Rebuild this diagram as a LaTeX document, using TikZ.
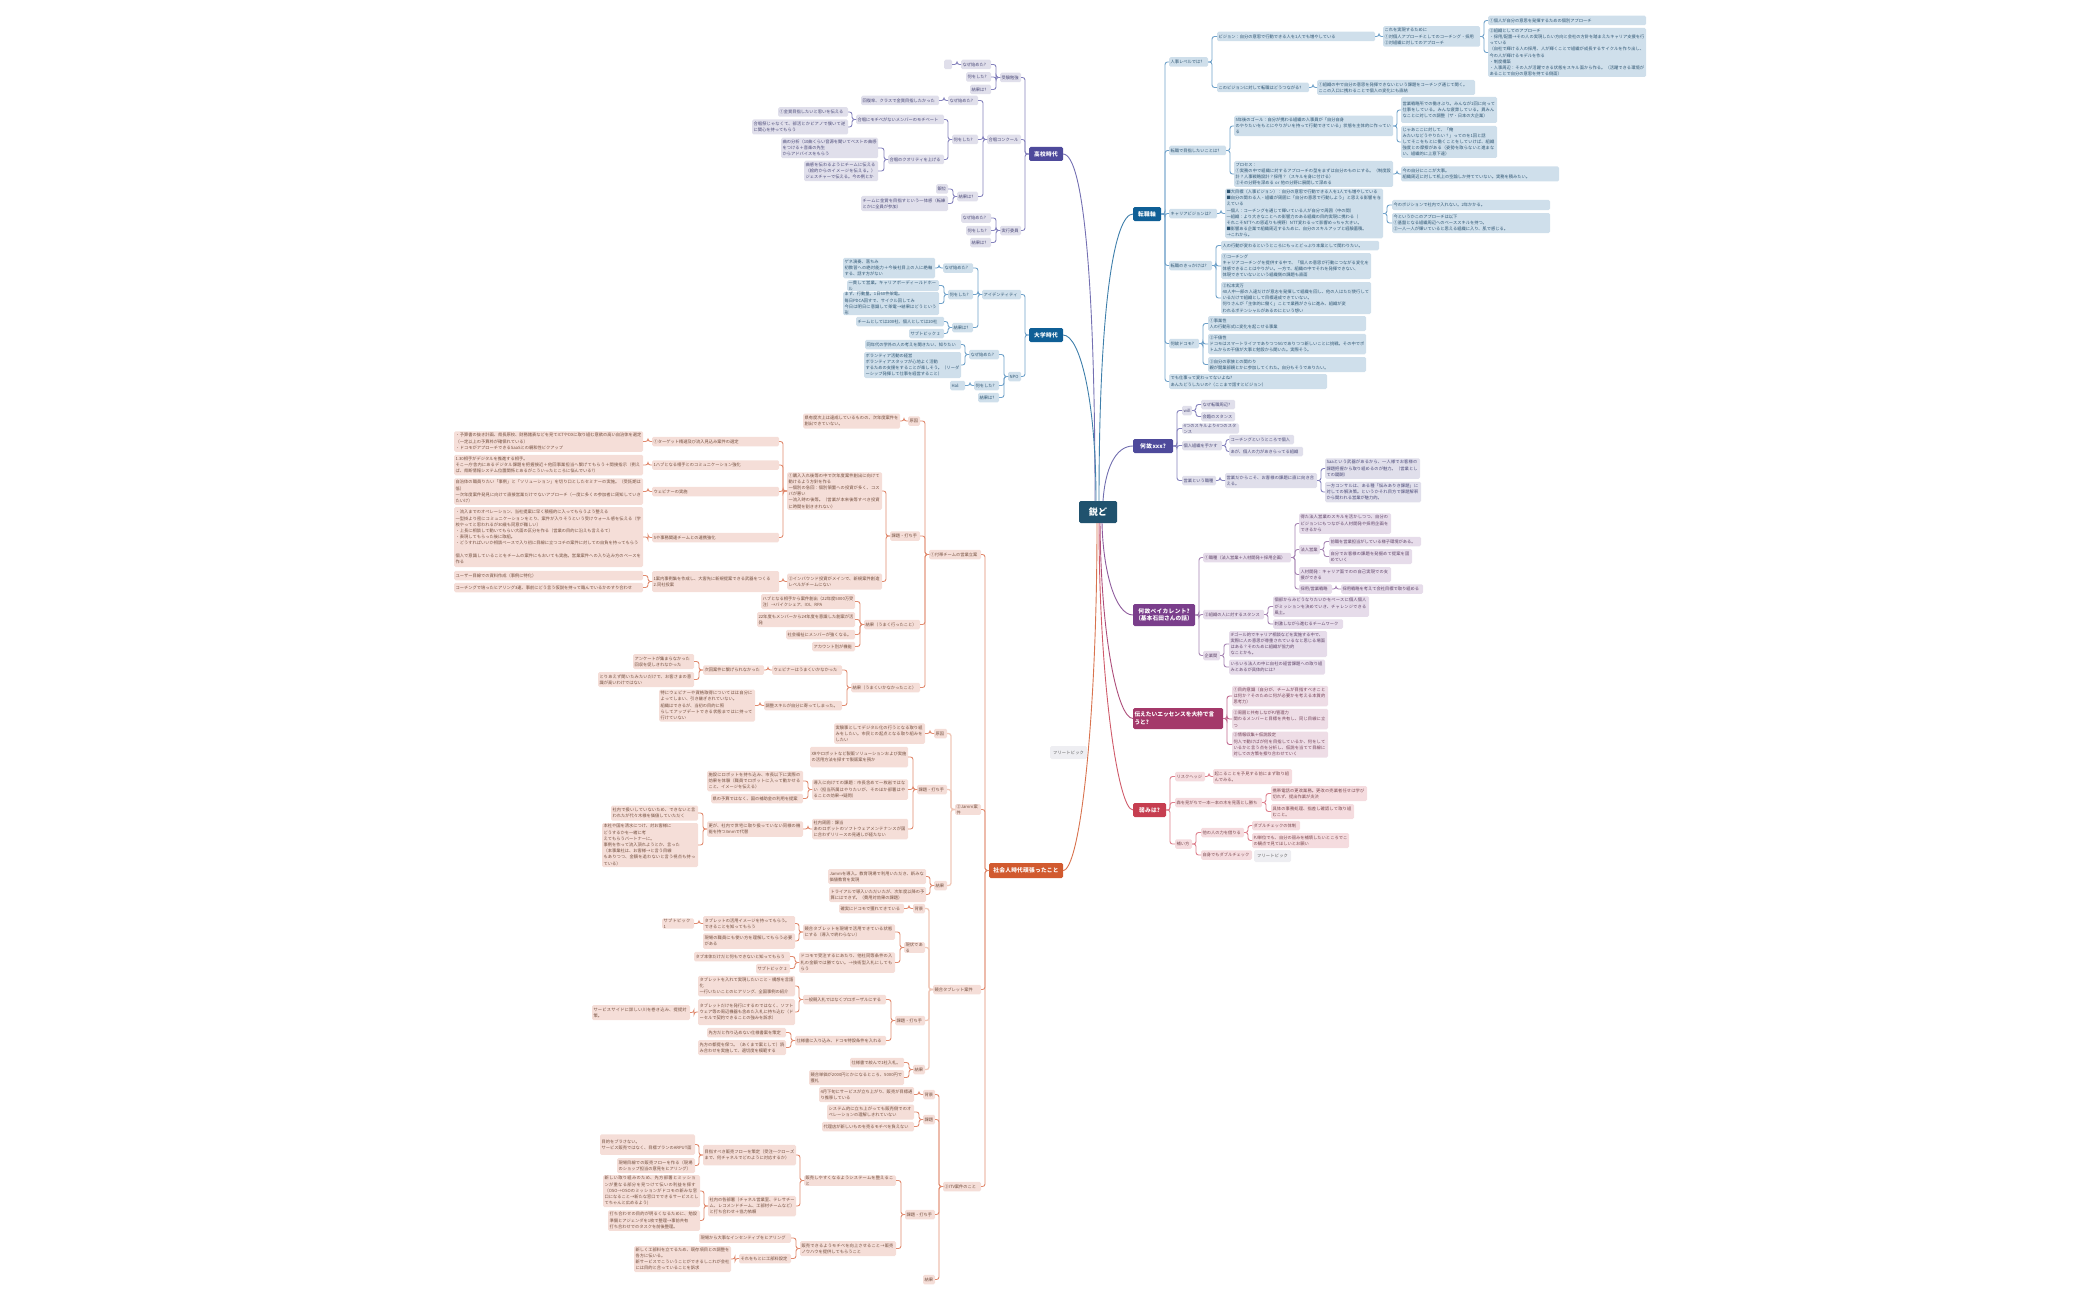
\documentclass[tikz,border=0pt]{standalone}
\usepackage{fontspec}
\usepackage{xcolor}
\setmainfont{Noto Sans CJK JP}
\XeTeXlinebreaklocale "ja"
\XeTeXlinebreakskip=0pt plus 1pt

\definecolor{rootc}{HTML}{20526E}
\definecolor{bluec}{HTML}{0F5F96}
\definecolor{bluef}{HTML}{CFDFEB}
\definecolor{bluet}{HTML}{2F5673}
\definecolor{bluel}{HTML}{6FA1C9}
\definecolor{violc}{HTML}{4E4A9B}
\definecolor{violf}{HTML}{E0DFEB}
\definecolor{violt}{HTML}{4B4A78}
\definecolor{violl}{HTML}{8481BC}
\definecolor{purpc}{HTML}{7A3E8B}
\definecolor{purpf}{HTML}{E6DCEA}
\definecolor{purpt}{HTML}{5F4468}
\definecolor{purpl}{HTML}{A583B2}
\definecolor{magc}{HTML}{A4396A}
\definecolor{magf}{HTML}{EEDDE6}
\definecolor{magt}{HTML}{734258}
\definecolor{magl}{HTML}{C0688F}
\definecolor{redc}{HTML}{C63E50}
\definecolor{redf}{HTML}{F5DCDF}
\definecolor{redt}{HTML}{7A4A50}
\definecolor{redl}{HTML}{DD7F8C}
\definecolor{orac}{HTML}{D15A2F}
\definecolor{oraf}{HTML}{F5DED8}
\definecolor{orat}{HTML}{74503F}
\definecolor{oral}{HTML}{E08A6E}
\definecolor{orap}{HTML}{F0C8B8}
\definecolor{grayf}{HTML}{EEEEF2}

\tikzset{
  tp/.style 2 args={shape=rectangle, rounded corners=1.5pt, anchor=west, inner xsep=1.5pt, inner ysep=.3pt, outer sep=0pt,
    minimum width=#1pt, minimum height=#2pt, text width=#1pt-3pt, align=left,
    font=\fontsize{4.25}{6.2}\selectfont},
  bt/.style 2 args={tp={#1}{#2}, fill=bluef, text=bluet},
  vt/.style 2 args={tp={#1}{#2}, fill=violf, text=violt},
  pt/.style 2 args={tp={#1}{#2}, fill=purpf, text=purpt},
  mt/.style 2 args={tp={#1}{#2}, fill=magf, text=magt},
  rt/.style 2 args={tp={#1}{#2}, fill=redf, text=redt},
  ot/.style 2 args={tp={#1}{#2}, fill=oraf, text=orat},
  free/.style 2 args={tp={#1}{#2}, fill=grayf, text=black!65, align=center},
  main/.style 2 args={tp={#1}{#2}, align=center, text=white, font=\fontsize{5.7}{7.6}\selectfont\bfseries},
  lk/.style={line width=.9pt, rounded corners=2.5pt},
  lkroot/.style={line width=.9pt}
}

\begin{document}
\begin{tikzpicture}[x=1pt, y=-1pt]
\useasboundingbox (0,0) rectangle (2100,1300);

\node[main={38}{22}, fill=rootc, font=\fontsize{9}{11}\selectfont\bfseries] (root) at (1079,512) {鋭ど};

% 転職軸
\node[main={28}{14}, fill=bluec] (jiku) at (1133,214) {転職軸};
\node[bt={39}{9.5}] (b1) at (1169,62) {人事レベルでは?};
\node[bt={158}{9.5}] (b1a) at (1217,36.5) {ビジョン：自分の意思で行動できる人を1人でも増やしている};
\node[bt={97}{20.5}] (b1a1) at (1383,36.5) {これを実現するために\\①対個人アプローチとしてのコーチング・採用\\②対組織に対してのアプローチ};
\node[bt={158}{9.5}] (b1a1a) at (1488,20.5) {①個人が自分の意思を発揮するための個別アプローチ};
\node[bt={158}{49}] (b1a1b) at (1488,52.5) {②組織としてのアプローチ\\・採用/配置→その人の実現したい方向と会社の方針を踏まえたキャリア支援を行っている\\（自社で輝ける人の採用、人が輝くことで組織が成長するサイクルを作り出し、今の人が輝けるモデルを作る\\・制度構築\\・人事周辺：その人が活躍できる状態をスキル面から作る。（活躍できる環境があることで自分の意思を持てる側面）};
\node[bt={92}{9.5}] (b1b) at (1217,87.5) {このビジョンに対して転職はどうつながる?};
\node[bt={158}{15}] (b1b1) at (1317,87.5) {①組織の中で自分の意思を発揮できないという課題をコーチング通じて聞く。\\ここの入口に携わることで個人の変化にも直結};
\node[bt={57}{9.5}] (b2) at (1169,150.5) {転職で目指したいことは?};
\node[bt={159}{20.5}] (b2a) at (1234,126) {5年後のゴール：自分が携わる組織の人事員が「自分自身\\のやりたいをもとにやりがいを持って行動できている」状態を主体的に作っている};
\node[bt={96}{26}] (b2a1) at (1401,110) {営業戦略所での働きぶり。みんなが1回に向って仕事をしている。みんな疲弊している。異みんなことに対しての調整（ザ・日本の大企業）};
\node[bt={96}{32}] (b2a2) at (1401,142) {じゃあここに対して、「俺\\みたいなどうやりたい？」ってのを1回と話\\してそこをもとに働くことをしていけば、組織強度との摩擦がある（姿勢を取らないと進まない、組織的に上意下達）};
\node[bt={159}{26}] (b2b) at (1234,174) {プロセス：\\①実務の中で組織に対するアプローチの型をまずは自分のものにする。（制度設計？人事戦略設計？採用？（スキルを身に付ける）\\②その分野を深める or 他の分野に展開して深める};
\node[bt={158}{15}] (b2b1) at (1401,174) {今の自分にここが大事。\\組織周辺に対して机上の空論しか持てていない。実務を積みたい。};
\node[bt={48}{9.5}] (b3) at (1169,213.5) {キャリアビジョンは?};
\node[bt={158}{49.5}] (b3a) at (1225,213.5) {■大目標（人事ビジョン）：自分の意思で行動できる人を1人でも増やしている\\■自分の関わる人・組織が周囲に「自分の意思で行動しよう」と思える影響を与えている\\一個人：コーチングを通じて輝いている人が自分で周囲（中の間）\\一組織：より大きなことへの影響力のある組織の目的実現に携わる（\\それこそNTTへの恩返りも視野）NTT変わるって影響めっちゃ大きい。\\■影響ある企業で組織周辺するために、自分のスキルアップと経験蓄積。\\→これから。};
\node[bt={158}{10}] (b3a1) at (1392,205) {今のポジションで社内で入れない。2年かかる。};
\node[bt={158}{20}] (b3a2) at (1392,223) {今というかこのアプローチは以下\\①基盤となる組織周辺へのベーススキルを持つ。\\②一人一人が輝いていると思える組織に入り、肌で感じる。};
\node[bt={43}{9.5}] (b4) at (1169,265.5) {転職のきっかけは?};
\node[bt={158}{9.5}] (b4a) at (1221,245.5) {人の行動が変わるというところにもっとどっぷり本業として関わりたい。};
\node[bt={150}{26}] (b4b) at (1221,266) {①コーチング\\キャリアコーチングを提供する中で、「個人の意思が行動につながる変化を体感できることはやりがい。一方で、組織の中でそれを発揮できない、\\体現できていないという組織側の課題も直面};
\node[bt={150}{32}] (b4c) at (1221,298) {②松本実万\\40人中一部の人達だけが意志を発揮して組織を回し、他の人はただ使行しているだけで組織として目標達成できていない。\\何りさんが「主体的に働く」ことで業務がさらに進み、組織が変\\われるポテンシャルがあるのにという想い};
\node[bt={30}{9.5}] (b5) at (1169,343.5) {何故ドコモ?};
\node[bt={158}{15}] (b5a) at (1208,323.5) {①事業性\\人の行動形式に変化を起こせる事業};
\node[bt={158}{20.5}] (b5b) at (1208,344) {②干値性\\ドコモはスマートライフでありつつ5Gでありつつ新しいことに挑戦。その中でボトムからの干値が大事と勉設から聞いた。実際そう。};
\node[bt={158}{15}] (b5c) at (1208,364.5) {③自分の家族との関わり\\親が開業部親とかに参加してくれた。自分もそうでありたい。};
\node[bt={158}{15}] (b6) at (1169,381.5) {でも仕事って変わってないよね?\\あんたどうしたいの?（ここまで話すとビジョン）};

% 何故xxx
\node[main={40}{14}, fill=violc] (nani) at (1133,446) {何故xxx?};
\node[vt={10}{9.5}] (pa) at (1182,410.5) {will};
\node[vt={34}{9.5}] (pa1) at (1201,404.5) {なぜ転職周辺?};
\node[vt={34}{9.5}] (pa2) at (1201,416.5) {会趣のスタンス};
\node[vt={57}{9.5}] (pb) at (1182,428.5) {4つのスキルより4つのスタンス};
\node[vt={40}{9.5}] (pc) at (1182,445.5) {個人組織を手かす};
\node[vt={65}{9.5}] (pc1) at (1229,439.5) {コーチングというところで個人};
\node[vt={74}{9.5}] (pc2) at (1229,451.5) {あが、個人の力があきらってる組織};
\node[vt={34}{9.5}] (pd) at (1182,480.5) {営業という職種};
\node[vt={92}{15}] (pd1) at (1225,480.5) {営業だからこそ、お客様の課題に直に向き合える。};
\node[vt={95}{20.5}] (pd1a) at (1325,468.5) {Saaという武器があるから、一人様でお客様の課題把握から取り組めるのが魅力。（営業としての醍醐）};
\node[vt={96}{20.5}] (pd1b) at (1325,492) {一方コンサルは、ある種「悩みありき課題」に対しての解決策。というかそれ目方で課題解釈から関われる営業が魅力的。};

% 何故ペイカレント
\node[main={62}{22}, fill=purpc] (pay) at (1133,615) {何故ペイカレント?\\（基本石田さんの話）};
\node[pt={88}{9.5}] (qa) at (1203,557.5) {①職種（法人営業＋人材開発＋採用企画）};
\node[pt={92}{20.5}] (qa1) at (1299,523.5) {得た法人営業のスキルを活かしつつ、自分のビジョンにもつながる人材開発や採用企画をできるから};
\node[pt={21}{9.5}] (qa2) at (1299,549.5) {法人営業};
\node[pt={92}{9.5}] (qa2a) at (1329,541.5) {前職を営業担当がしている様子環境がある。};
\node[pt={83}{15}] (qa2b) at (1329,556.5) {自分でお客様の課題を発掘めて提案を固めていく};
\node[pt={92}{15}] (qa3) at (1299,574.5) {人材開発：キャリア面でのの自己実現での支援ができる};
\node[pt={33}{9.5}] (qa4) at (1299,589) {採用/営業戦略};
\node[pt={82}{9.5}] (qa4a) at (1341,589) {採用戦略を考えて会社目標で取り組める};
\node[pt={61}{9.5}] (qb) at (1203,614.5) {②組織の人に対するスタンス};
\node[pt={96}{20.5}] (qb1) at (1273,606.5) {個部からみどうなりたいかをベースに個人個人がミッションを決めていき、チャレンジできる風土。};
\node[pt={70}{9.5}] (qb2) at (1273,624) {刺激しながら進むるチームワーク};
\node[pt={17}{9.5}] (qc) at (1203,655.5) {企業間};
\node[pt={98}{26}] (qc1) at (1229,644) {IFゴール的でキャリア相談などを実施する中で、\\実際に人の意思が尊重されているなと思じる場面はある？そのために組織が協力的\\なことかも。};
\node[pt={96}{15}] (qc2) at (1229,667) {いろいろ法人の中に自社の経営課題への取り組みとあるが具体的には?};

% 伝えたいエッセンス
\node[main={90}{21}, fill=magc, align=left] (ess) at (1133,718.5) {伝えたいエッセンスを大枠で言\\うと?};
\node[mt={96}{20.5}] (ra) at (1232,696) {①目的意識（自分が、チームが目指すべきことは何か？そのために何が必要かを考える本質的思考力）};
\node[mt={96}{20.5}] (rb) at (1232,719) {②周囲と共有しながPJ管理力\\関わるメンバーと目標を共有し、同じ目線に立つ};
\node[mt={96}{26}] (rc) at (1232,744.5) {③情報収集＋仮説設定\\何人で動けばが何を目指しているか、何をしているかと言う点を分析し、仮説を当てて目線に対しての方策を擦り合わせていく};

% 弱みは
\node[main={33}{14}, fill=redc] (yowa) at (1133,810) {弱みは?};
\node[rt={30}{9.5}] (sa) at (1175,776.5) {リスクヘッジ};
\node[rt={79}{15}] (sa1) at (1213,776.5) {起こることを予見する前にまず取り組んでみる。};
\node[rt={87}{9.5}] (sb) at (1175,802.5) {森を見がちで一本一本の木を見落とし勝ち};
\node[rt={96}{15}] (sb1) at (1271,793.5) {携帯電話の更改業務。更改の売業者任せは学び切れず、提出作業が炎渋};
\node[rt={83}{15}] (sb2) at (1271,811.5) {具体の事務処理、指差し確認して取り組むこと。};
\node[rt={17}{9.5}] (sc) at (1175,844) {補い方};
\node[rt={43}{9.5}] (sc1) at (1201,832.5) {他の人の力を借りる};
\node[rt={48}{9.5}] (sc1a) at (1252,825.5) {ダブルチェックの体制};
\node[rt={97}{15}] (sc1b) at (1252,840.5) {PJ単位でも、自分の弱みを補填したいところでこの観点で見てほしいとお願い};
\node[rt={51}{9.5}] (sc2) at (1201,855) {自身でもダブルチェック};
\node[free={37}{12}] (sc2a) at (1254,856) {フリートピック};

% 高校時代
\node[main={34}{14}, fill=violc] (high) at (1029,154) {高校時代};
\node[vt={21}{9.5}] (hA) at (1000,77.5) {受験勉強};
\node[vt={30}{9.5}] (hA1) at (961,64.5) {なぜ始めた?};
\node[vt={8}{9.5}] (hA1a) at (944,64.5) {};
\node[vt={25}{9.5}] (hA2) at (966,77) {何をした?};
\node[vt={21}{9.5}] (hA3) at (970,89.5) {結果は?};
\node[vt={34}{9.5}] (hB) at (987,139.5) {合唱コンクール};
\node[vt={30}{9.5}] (hB1) at (948,100.5) {なぜ始めた?};
\node[vt={78}{9.5}] (hB1a) at (861,100.5) {回復率、クラスで金賞目指したかった};
\node[vt={26}{9.5}] (hB2) at (952,139.5) {何をした?};
\node[vt={88}{9.5}] (hB2a) at (856,119.5) {合唱にモチベがないメンバーのモチベート};
\node[vt={70}{9.5}] (hB2a1) at (778,112) {①金賞目指したいと思いを伝える};
\node[vt={96}{15}] (hB2a2) at (752,127) {合唱祭じゃなくて、部活とかピアノで僕いて逆に関心を持ってもらう};
\node[vt={56}{9.5}] (hB2b) at (888,159.5) {合唱のクオリティを上げる};
\node[vt={97}{20.5}] (hB2b1) at (781,148) {曲の分析（10曲くらい音源を聞いてベストの曲感をつける＋音楽の先生\\からアドバイスをもらう};
\node[vt={74}{20.5}] (hB2b2) at (804,171) {曲感を伝わるようにチームに伝える（絵的からのイメージを伝える。）ジェスチャーで伝える。今の例とか};
\node[vt={21}{9.5}] (hB3) at (957,196.5) {結果は?};
\node[vt={12}{9.5}] (hB3a) at (936,189) {銀位};
\node[vt={87}{15}] (hB3b) at (861,203.5) {チームに金賞を目指すという一体感（転練とかに全員が参加）};
\node[vt={21}{9.5}] (hC) at (1000,230.5) {実行委員};
\node[vt={30}{9.5}] (hC1) at (961,218) {なぜ始めた?};
\node[vt={25}{9.5}] (hC2) at (966,230.5) {何をした?};
\node[vt={21}{9.5}] (hC3) at (970,242.5) {結果は?};

% 大学時代
\node[main={34}{14}, fill=bluec] (univ) at (1029,335) {大学時代};
\node[bt={39}{9.5}] (uA) at (982,294.5) {アイデンティティ};
\node[bt={30}{9.5}] (uA1) at (943,268) {なぜ始めた?};
\node[bt={92}{20.5}] (uA1a) at (843,268) {ゲネ演奏、落ちみ\\初教習への絶対能力＋今後社目上の人に絶軸する、話す方がない};
\node[bt={25}{9.5}] (uA2) at (948,294.5) {何をした?};
\node[bt={92}{9.5}] (uA2a) at (847,285.5) {一貫して営業。キャリアボーディールドホール};
\node[bt={96}{20.5}] (uA2b) at (843,303.5) {まず、行動量。1日60件架電。\\毎日PDCA回すで、サイクル回してみ\\今日は明日に意識して架電→結果はどうという形};
\node[bt={21}{9.5}] (uA3) at (952,327.5) {結果は?};
\node[bt={88}{9.5}] (uA3a) at (856,321.5) {チームとしては200社、個人としては20社};
\node[bt={35}{9.5}] (uA3b) at (909,333.5) {サブトピック 2};
\node[bt={13}{9.5}] (uB) at (1008,376.5) {NPO};
\node[bt={30}{9.5}] (uB1) at (969,354.5) {なぜ始めた?};
\node[bt={96}{9.5}] (uB1a) at (865,344.5) {同年代の学外の人の考えを聞きたい、知りたい};
\node[bt={97}{26}] (uB1b) at (864,365) {ボランティア活動の経営\\ボランティアスタッフが心地よく活動\\するための支援をすることが楽しそう。（リーダーシップ発揮して仕事を経営すること）};
\node[bt={25}{9.5}] (uB2) at (974,385.5) {何をした?};
\node[bt={15}{9.5}] (uB2a) at (950,385.5) {Hal:};
\node[bt={21}{9.5}] (uB3) at (978,397.5) {結果は?};

% 社会人時代
\node[main={74}{15}, fill=orac] (work) at (989,870.5) {社会人時代頑張ったこと};
\node[ot={52}{9.5}] (c1) at (929,554.5) {①付帯チームの営業立案};
\node[ot={12}{9.5}] (c1a) at (908,421) {原因};
\node[ot={97}{15}] (c1a1) at (803,421) {県有度次上は達成しているものの、次年度案件を創出できていない。};
\node[ot={30}{9.5}] (c1b) at (890,536) {課題・打ち手};
\node[ot={95}{37.5}] (c1b1) at (787,491) {①購入入れ後等の中で次年度案件創出に向けて動けるよう方針を作る\\一個別の急回：個別領置への投資が多く、コスパが悪い\\一流入時の後等。（営業が本来後等すべき投資に時間を割ききれない）};
\node[ot={127}{9.5}] (c1b1a) at (652,441.5) {①ターゲット精選及び流入見込み案件の選定};
\node[ot={189}{20.5}] (c1b1a1) at (454,441.5) {・予算書の抜き計画、県長原校、財務諸表などを見てICTやDXに取り組む意欲の高い自治体を選定（一定以上の予算枠が確保れている）\\・ドコモがアプローチできるSaaSとの親和性ピクアップ};
\node[ot={127}{9.5}] (c1b1b) at (652,465) {1ハブとなる相手とのコミュニケーション強化};
\node[ot={189}{20.5}] (c1b1b1) at (454,465) {1.30相手がデジタルを推進する相手。\\そこ一庁舎内にあるデジタル課題を把握接近＋他回事業担当へ繋げてもらう＋間接指示（例えば、県断情報システム位置関係とあるがこういったところに悩んでいる?）};
\node[ot={127}{9.5}] (c1b1c) at (652,491.5) {ウェビナーの実施};
\node[ot={189}{26.5}] (c1b1c1) at (454,491.5) {自治体の職員りたい「事例」と「ソリューション」を切り口としたセミナーの実施。（受託期は低）\\一次年度案件発見に向けて直接営業だけでないアプローチ（一度に多くの参加者に周知していきたいけ）};
\node[ot={127}{9.5}] (c1b1d) at (652,537.5) {Sや事務関連チームとの連携強化};
\node[ot={189}{60}] (c1b1d1) at (454,537) {・流入までのオペレーション、当社提案に早く積極的に入ってもらうよう整える\\一型掛より密にコミュニケーションをとり、案件が入りそうという受けウォール感を伝える（学校やってと思われるが30歳も同意が難しい）\\・上長に相談して動いてもらい大面の区分を作る（営業の目的に沿えも言えるて）\\・表現してもらった後に取組。\\・どうすればいいか相談ベースで入り初に目線に立つコチの案件に対しての自負を持ってもらう\\[6.2pt]個人で意識していることをチームの案件にもおいても実施。営業案件への入り込み方のベースを作る};
\node[ot={95}{16}] (c1b2) at (787,581.5) {②インバウンド投資がメインで、新規案件創造レベルがチームにない};
\node[ot={127}{21}] (c1b2a) at (652,581.5) {1案内事例集を作成し、大客先に新規提案できる武器をつくる\\2.同社投案};
\node[ot={189}{9.5}] (c1b2a1) at (454,575.5) {ユーザー目線での資料作成（事例に特化）};
\node[ot={189}{9.5}] (c1b2a2) at (454,587.5) {コーチングで培ったヒアリング3連、事前にどう言う仮説を持って臨んでいるかのすり合わせ};
\node[ot={56}{9.5}] (c1c) at (864,624.5) {結果（うまく行ったこと）};
\node[ot={94}{15}] (c1c1) at (761,601.5) {ハブとなる相手から案件創出（22年度5000万受注）→バイクシェア、IOI、RPA};
\node[ot={98}{15}] (c1c2) at (757,619.5) {22年度もメンバーから24年度を意識した創案が活発};
\node[ot={69}{9.5}] (c1c3) at (786,634.5) {社会福祉にメンバーが強くなる。};
\node[ot={43}{9.5}] (c1c4) at (812,646.5) {アカウント別が機能};
\node[ot={69}{9.5}] (c1d) at (851,687.5) {結果（うまくいかなかったこと）};
\node[ot={70}{9.5}] (c1d1) at (772,670) {ウェビナーはうまくいかなかった};
\node[ot={61}{9.5}] (c1d1a) at (703,670) {次回案件に繋げられなかった};
\node[ot={61}{15}] (c1d1a1) at (633,661.5) {アンケートが集まらなかった\\回収を促しきれなかった};
\node[ot={96}{15}] (c1d1a2) at (598,679.5) {とりあえず聞いたみたいだけで、お客さまの意識が高いわけではない};
\node[ot={78}{9.5}] (c1d2) at (764,705.5) {調整スキルが自分に寄ってしまった。};
\node[ot={96}{32}] (c1d2a) at (659,705.5) {特にウェビナーや資格取得についてはは自分によってしまい、引き継ぎきれていない。\\組織はできるが、当初の目的に照\\らしてアップデートできる状態まではに持って行けていない};
\node[ot={26}{9.5}] (c2) at (955,809.5) {②Jamm案件};
\node[ot={13}{9.5}] (c2a) at (934,733.5) {原因};
\node[ot={91}{20.5}] (c2a1) at (834,733.5) {実験事としてデジタル化の行うとなる取り組みをしたい。市民との起点となる取り組みをしたい};
\node[ot={30}{9.5}] (c2b) at (917,789.5) {課題・打ち手};
\node[ot={98}{20.5}] (c2b1) at (810,757) {XRやロボットなど製販ソリューションおよび実施の活用方法を探すで製販案を預か};
\node[ot={96}{20.5}] (c2b2) at (812,789.5) {導入に向けての課題：市長含めて一枚岩ではない（担当所属はやりたいが、そのほか部署はやることの効果→疑問）};
\node[ot={96}{20.5}] (c2b2a) at (707,781) {施設にロボットを持ち込み、市長以下に実際の効果を体験（職員でロボットに入って動かせること、イメージを伝える）};
\node[ot={92}{9.5}] (c2b2b) at (711,798.5) {県の予算ではなく、国の補助金の利用を提案};
\node[ot={96}{20.5}] (c2b3) at (812,829) {社内周囲：課当\\あのロボットのソフトウェアメンテナンスが国に合わずリリースの見通しが経たない};
\node[ot={96}{15.5}] (c2b3a) at (707,829) {更が、社内で世宅に取り扱っていない同様の機能を持つ3mmで代替};
\node[ot={87}{15}] (c2b3a1) at (611,813) {社内で扱いしていないため、できないと言われたが代々木様を価値していただく};
\node[ot={96}{44}] (c2b3a2) at (602,845) {本社や国を清水につけ、対お客様に\\どうするかを一緒に考\\えてもらうパートナーに。\\事例を作って流入頂れようとか、言った\\（本事業社は、お客様→と言う目線\\もありつつ、金額を追わないと言う視点も持っている）};
\node[ot={13}{9.5}] (c2c) at (934,885.5) {結果};
\node[ot={98}{15}] (c2c1) at (828,876.5) {Jammを導入。教育現場で利用いただき、新みな価値教育を実現};
\node[ot={97}{15}] (c2c2) at (829,894.5) {トライアルで導入いただいたが、次年度以降の予算にはできず。（費用対効果の課題）};
\node[ot={48}{9.5}] (c3) at (933,989.5) {競合タブレット案件};
\node[ot={12}{9.5}] (c3a) at (913,908.5) {背景};
\node[ot={65}{9.5}] (c3a1) at (839,908.5) {確実にドコモで獲れてきている};
\node[ot={21}{9.5}] (c3b) at (904,947.5) {現状である};
\node[ot={92}{15.5}] (c3b1) at (803,932) {競合タブレットを現場で活用できている状態にする（導入で終わらない）};
\node[ot={92}{15}] (c3b1a) at (703,923.5) {タブレットの活用イメージを持ってもらう。\\できることを知ってもらう};
\node[ot={32}{9.5}] (c3b1a1) at (662,923.5) {サブトピック 1};
\node[ot={92}{15.5}] (c3b1b) at (703,941) {現場の職員にも使い方を理解してもらう必要がある};
\node[ot={96}{20.5}] (c3b2) at (799,962.5) {ドコモで受注するにあたり、他社同等条件の入札の金額では勝てない。→技術型入札にしてもらう};
\node[ot={96}{9.5}] (c3b2a) at (694,956.5) {タブ本体だけだと何もできないと知ってもらう};
\node[ot={34}{9.5}] (c3b2b) at (756,968.5) {サブトピック 2};
\node[ot={30}{9.5}] (c3c) at (895,1020.5) {課題・打ち手};
\node[ot={83}{9.5}] (c3c1) at (803,999.5) {一般競入札ではなくプロポーザルにする};
\node[ot={97}{20.5}] (c3c1a) at (698,986) {タブレットを入れて実現したいこと・構想を言語化\\一行いたいことのヒアリング、全国事例の紹介};
\node[ot={97}{26}] (c3c1b) at (698,1012) {タブレットだけを発行にするのではなく、ソフトウェア等の周辺機器も含めた入札に持ち込む（ドーセルで契約できることの強みを訴求）};
\node[ot={98}{15}] (c3c1b1) at (592,1012.5) {サービスサイドに詳しい川を巻き込み、提提対策。};
\node[ot={91}{9.5}] (c3c2) at (795,1040.5) {仕様書に入り込み、ドコモ特設条件を入れる};
\node[ot={79}{9.5}] (c3c2a) at (707,1032.5) {先方だと作り込めない仕様書案を策定};
\node[ot={88}{15}] (c3c2b) at (698,1047.5) {先方の都提を保つ。（あくまで案として）読み合わせを実施して、適切度を模範する};
\node[ot={12}{9.5}] (c3d) at (913,1069.5) {結果};
\node[ot={54}{9.5}] (c3d1) at (850,1062.5) {仕様書で絞んで1社入札。};
\node[ot={95}{15}] (c3d2) at (809,1077.5) {競合単価が2000円とかになるところ、5000円で獲札};
\node[ot={38}{9.5}] (c4) at (943,1186.5) {③ITV案件のこと};
\node[ot={12}{9.5}] (c4a) at (923,1094.5) {背景};
\node[ot={95}{15}] (c4a1) at (819,1094.5) {4月下旬にサービスが立ち上がり、販売が目標通り推移している};
\node[ot={12}{9.5}] (c4b) at (923,1119.5) {課題};
\node[ot={87}{15}] (c4b1) at (827,1112) {システム的に立ち上がっても販売側でのオペレーションの理解しきれていない};
\node[ot={92}{9.5}] (c4b2) at (822,1126.5) {代理店が新しいものを売るモチベを負えない};
\node[ot={30}{9.5}] (c4c) at (905,1214.5) {課題・打ち手};
\node[ot={92}{9.5}] (c4c1) at (804,1180.5) {販売しやすくなるようシステームを整えること};
\node[ot={93}{20.5}] (c4c1a) at (703,1155) {目指すべき販売フローを策定（受注〜クローズまで、何チャネルでどのように対応するか）};
\node[ot={95}{20.5}] (c4c1a1) at (600,1144.5) {目的をブラさない。\\サービス販売ではなく、目標プランのARPUT面};
\node[ot={78}{15}] (c4c1a2) at (617,1165.5) {現場目線での販売フローを作る（現場のショップ担当の意見をヒアリング）};
\node[ot={88}{20.5}] (c4c1b) at (708,1206) {社内の各部署（チャネル営業室、テレサチーム、レコメンドチーム、工部材チームなど）と打ち合わせ＋協力依頼};
\node[ot={97}{32}] (c4c1b1) at (603,1191) {新しい取り組みのため、先方部署とミッションが重なる部分を見つけて伝いの利益を探す（OSO→OSOのミッションがドコモの新みな窓口になること→新たな窓口でできるサービスとしてちゃんと広めるよう)};
\node[ot={92}{20.5}] (c4c1b2) at (608,1220.5) {打ち合わせの目的が明るくなるために、勉設準備とアジェンダを1枚で整理→事前共有\\打ち合わせでのタスクを前後整理。};
\node[ot={96}{15}] (c4c2) at (800,1248.5) {販売できるようモチベを向上させること→販売ノウハウを提供してもらうこと};
\node[ot={92}{9.5}] (c4c2a) at (699,1238) {現場から大事なインセンティブをヒアリング};
\node[ot={52}{9.5}] (c4c2b) at (739,1258.5) {それをもとに工部料設定};
\node[ot={97}{26}] (c4c2b1) at (634,1259) {新しく工部料を立てるため、既存項目との調整を各方に伝いる。\\新サービスでこういうことができるしこれが会社には目的と合っていることを訴求};
\node[ot={12}{9.5}] (c4d) at (923,1279.5) {結果};

\node[free={37}{13}] (ftop) at (1050,752.5) {フリートピック};

% 中心からの線
\draw[lkroot, violl!70!violc] ([xshift=-3pt]root.north) .. controls (1095,300) and (1085,154) .. (high.east);
\draw[lkroot, bluec!80] ([xshift=-2pt]root.north) .. controls (1096,400) and (1080,335) .. (univ.east);
\draw[lkroot, bluec!80] ([xshift=1pt]root.north) .. controls (1099,300) and (1115,214) .. (jiku.west);
\draw[lkroot, violc!80] ([xshift=5pt]root.north) .. controls (1105,470) and (1115,446) .. (nani.west);
\draw[lkroot, purpc!85] ([xshift=4pt]root.south) .. controls (1103,570) and (1115,615) .. (pay.west);
\draw[lkroot, magc!90] ([xshift=2pt]root.south) .. controls (1101,640) and (1118,718.5) .. (ess.west);
\draw[lkroot, redc!85] ([xshift=1pt]root.south) .. controls (1099,680) and (1118,810) .. (yowa.west);
\draw[lkroot, orac!85] ([xshift=-1pt]root.south) .. controls (1097,720) and (1080,870.5) .. (work.east);

% 右向き
\foreach \a/\b in {jiku/b1, jiku/b2, jiku/b3, jiku/b4, jiku/b5, jiku/b6, b1/b1a, b1/b1b, b1a/b1a1, b1a1/b1a1a, b1a1/b1a1b, b1b/b1b1, b2/b2a, b2/b2b, b2a/b2a1, b2a/b2a2, b2b/b2b1, b3/b3a, b3a/b3a1, b3a/b3a2, b4/b4a, b4/b4b, b4/b4c, b5/b5a, b5/b5b, b5/b5c}
  \draw[lk, bluel] (\a.east) -- ++(4,0) |- (\b.west);
\foreach \a/\b in {nani/pa, nani/pb, nani/pc, nani/pd, pa/pa1, pa/pa2, pc/pc1, pc/pc2, pd/pd1, pd1/pd1a, pd1/pd1b}
  \draw[lk, violl] (\a.east) -- ++(4,0) |- (\b.west);
\foreach \a/\b in {pay/qa, pay/qb, pay/qc, qa/qa1, qa/qa2, qa/qa3, qa/qa4, qa2/qa2a, qa2/qa2b, qa4/qa4a, qb/qb1, qb/qb2, qc/qc1, qc/qc2}
  \draw[lk, purpl] (\a.east) -- ++(4,0) |- (\b.west);
\foreach \b in {ra, rb, rc}
  \draw[lk, magl] (ess.east) -- ++(4,0) |- (\b.west);
\foreach \a/\b in {yowa/sa, yowa/sb, yowa/sc, sa/sa1, sb/sb1, sb/sb2, sc/sc1, sc/sc2, sc1/sc1a, sc1/sc1b}
  \draw[lk, redl] (\a.east) -- ++(4,0) |- (\b.west);

% 左向き
\foreach \a/\b in {high/hA, high/hB, high/hC, hA/hA1, hA/hA2, hA/hA3, hA1/hA1a, hB/hB1, hB/hB2, hB/hB3, hB1/hB1a, hB2/hB2a, hB2/hB2b, hB2a/hB2a1, hB2a/hB2a2, hB2b/hB2b1, hB2b/hB2b2, hB3/hB3a, hB3/hB3b, hC/hC1, hC/hC2, hC/hC3}
  \draw[lk, violl] (\a.west) -- ++(-4,0) |- (\b.east);
\foreach \a/\b in {univ/uA, univ/uB, uA/uA1, uA/uA2, uA/uA3, uA1/uA1a, uA2/uA2a, uA2/uA2b, uA3/uA3a, uA3/uA3b, uB/uB1, uB/uB2, uB/uB3, uB1/uB1a, uB1/uB1b, uB2/uB2a}
  \draw[lk, bluel] (\a.west) -- ++(-4,0) |- (\b.east);
\foreach \a/\b in {c2/c2a, c2/c2b, c2/c2c, c3/c3a, c3/c3b, c3/c3c, c3/c3d}
  \draw[lk, orap, line width=1.3pt] (\a.west) -- ++(-4,0) |- (\b.east);
\foreach \a/\b in {work/c1, work/c2, work/c3, work/c4, c1/c1a, c1/c1b, c1/c1c, c1/c1d, c1a/c1a1, c1b/c1b1, c1b/c1b2, c1b1/c1b1a, c1b1/c1b1b, c1b1/c1b1c, c1b1/c1b1d, c1b1a/c1b1a1, c1b1b/c1b1b1, c1b1c/c1b1c1, c1b1d/c1b1d1, c1b2/c1b2a, c1b2a/c1b2a1, c1b2a/c1b2a2, c1c/c1c1, c1c/c1c2, c1c/c1c3, c1c/c1c4, c1d/c1d1, c1d/c1d2, c1d1/c1d1a, c1d1a/c1d1a1, c1d1a/c1d1a2, c1d2/c1d2a, c2a/c2a1, c2b/c2b1, c2b/c2b2, c2b/c2b3, c2b2/c2b2a, c2b2/c2b2b, c2b3/c2b3a, c2b3a/c2b3a1, c2b3a/c2b3a2, c2c/c2c1, c2c/c2c2, c3a/c3a1, c3b/c3b1, c3b/c3b2, c3b1/c3b1a, c3b1/c3b1b, c3b1a/c3b1a1, c3b2/c3b2a, c3b2/c3b2b, c3c/c3c1, c3c/c3c2, c3c1/c3c1a, c3c1/c3c1b, c3c1b/c3c1b1, c3c2/c3c2a, c3c2/c3c2b, c3d/c3d1, c3d/c3d2, c4/c4a, c4/c4b, c4/c4c, c4/c4d, c4a/c4a1, c4b/c4b1, c4b/c4b2, c4c/c4c1, c4c/c4c2, c4c1/c4c1a, c4c1/c4c1b, c4c1a/c4c1a1, c4c1a/c4c1a2, c4c1b/c4c1b1, c4c1b/c4c1b2, c4c2/c4c2a, c4c2/c4c2b, c4c2b/c4c2b1}
  \draw[lk, oral] (\a.west) -- ++(-4,0) |- (\b.east);
\end{tikzpicture}
\end{document}
